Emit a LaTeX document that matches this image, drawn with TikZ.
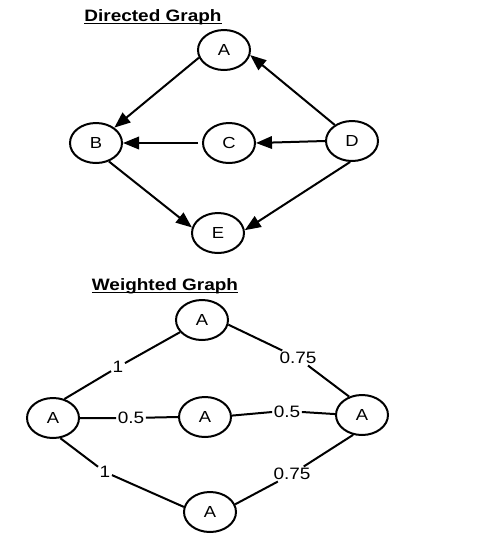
\documentclass[tikz,border=0pt]{standalone}
\usepackage{fontspec}
\setmainfont{Liberation Sans}[FakeStretch=1.15]
\usetikzlibrary{shapes.geometric,arrows.meta}
\newcommand\myul[1]{\setbox0\hbox{#1}\rlap{\rule[-3pt]{\wd0}{1.6pt}}\box0}
\begin{document}
\begin{tikzpicture}[x=1pt,y=-1pt,
  vtx/.style={draw,ellipse,line width=2pt,minimum width=52pt,minimum height=40pt,inner sep=0pt,font=\fontsize{16}{19}\selectfont},
  edge/.style={line width=2pt},
  arr/.style={edge,-{Triangle[length=16pt,width=12.5pt]}},
  wlab/.style={inner sep=1.5pt,font=\fontsize{16.5}{19}\selectfont},
  ttl/.style={font=\bfseries\fontsize{16.5}{19}\selectfont}]
\useasboundingbox (0,0) rectangle (490,542);
\fill[white] (0,0) rectangle (490,542);
% Directed graph
\node[ttl] (t1) at (153,17) {\myul{Directed Graph}};
\node[vtx] (A) at (224,50) {A};
\node[vtx] (B) at (96,143) {B};
\node[vtx] (C) at (229,143) {C};
\node[vtx] (D) at (352,141) {D};
\node[vtx] (E) at (218,233) {E};
\draw[arr] (A.197) -- (B.40);
\draw[arr] (D.137) -- (A.349);
\draw[arr] ([xshift=-4pt]C.180) -- (B.0);
\draw[arr] (D.180) -- (C.0);
\draw[arr] (D.265) -- (E.6);
\draw[arr] (B.305) -- (E.168);
% Weighted graph
\node[ttl] (t2) at (165,286) {\myul{Weighted Graph}};
\node[vtx] (WT) at (202,320) {A};
\node[vtx] (WL) at (53,418) {A};
\node[vtx] (WM) at (205,417) {A};
\node[vtx] (WR) at (362,415) {A};
\node[vtx] (WB) at (210,512) {A};
\node[wlab] (w1) at (118,367) {1};
\node[wlab] (w2) at (298,358) {0.75};
\node[wlab] (w3) at (131,418) {0.5};
\node[wlab] (w4) at (287,412) {0.5};
\node[wlab] (w5) at (105,472) {1};
\node[wlab] (w6) at (292,474) {0.75};
\draw[edge] (WL.59) -- (w1) -- (WT.209);
\draw[edge] (WT.350) -- (w2) -- (WR.125);
\draw[edge] (WL.0) -- (w3) -- (WM.180);
\draw[edge] (WM.3) -- (w4.west) (w4.east) -- (WR.178);
\draw[edge] (WL.290) -- (w5) -- (WB.169);
\draw[edge] (WR.246) -- (w6) -- (WB.17);
\end{tikzpicture}
\end{document}
